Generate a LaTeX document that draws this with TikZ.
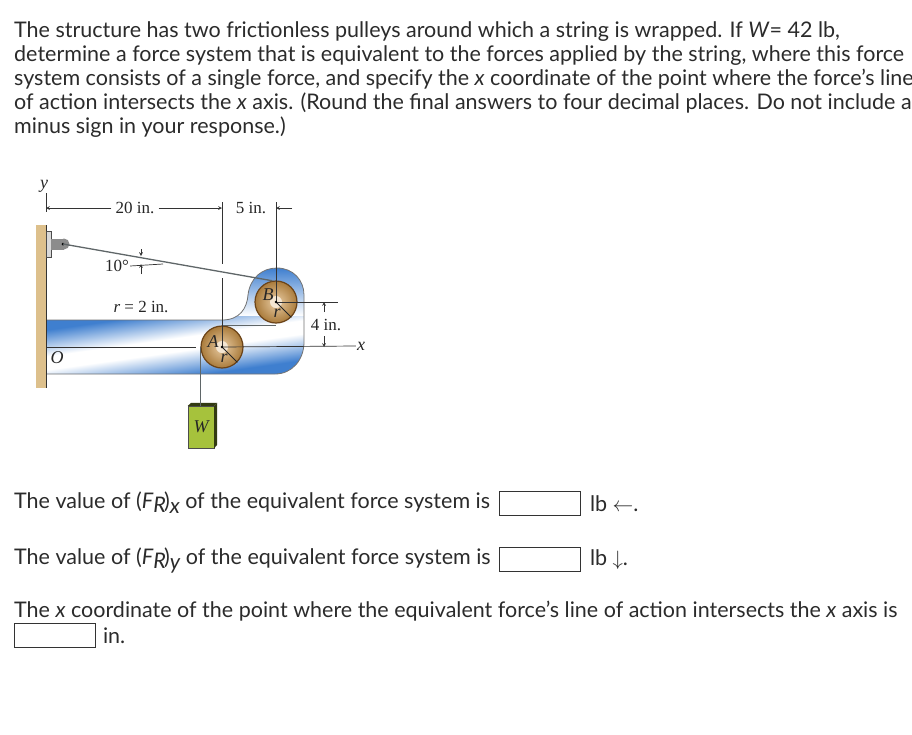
\documentclass[tikz,border=0pt]{standalone}
\usepackage{fontspec}
\setmainfont{Lato}
\newfontfamily\figfont{Liberation Serif}
\usetikzlibrary{positioning}
\definecolor{inktext}{HTML}{2B2B2B}
\definecolor{bodyblue}{HTML}{3F7FCF}
\definecolor{walltan}{HTML}{DDC08C}
\definecolor{woodtan}{HTML}{D49A4A}
\definecolor{woodedge}{HTML}{6B4318}
\definecolor{blockgreen}{HTML}{A6C23C}
\definecolor{stringgrey}{HTML}{5F6668}

\pgfdeclareverticalshading{bandshade}{100bp}{color(0bp)=(bodyblue); color(30bp)=(bodyblue); color(46bp)=(white); color(54bp)=(white); color(70bp)=(bodyblue); color(100bp)=(bodyblue)}

\def\bodyshape{(46,320) -- (222,320) .. controls (240,320) and (247,308) .. (248,295)
  .. controls (250,278) and (262,268) .. (277,268) .. controls (293,268) and (304,280) .. (304,295)
  -- (304,342) .. controls (304,360) and (292,374) .. (275,374) -- (46,374) -- cycle}

\tikzset{
  line/.style={font=\fontsize{21.5}{24}\selectfont, text=inktext, anchor=base west, inner sep=0pt},
  answerbox/.style={draw=black!80, line width=.8pt, fill=white, minimum width=81pt, minimum height=24pt, inner sep=0pt, anchor=north west},
  figlabel/.style={font=\figfont\fontsize{17}{18}\selectfont, text=black!85, inner sep=4pt},
  figit/.style={figlabel, inner sep=1pt, font=\figfont\itshape\fontsize{18}{18}\selectfont},
  wheel/.style={circle, draw=woodedge, line width=1.2pt, minimum size=42pt, inner sep=0pt, inner color=woodtan!50, outer color=woodtan!80!black},
  rope/.style={draw=stringgrey, line width=1.3pt},
  thinline/.style={draw=black!80, line width=.7pt},
  dim/.style={thinline, ->, >=stealth}
}

\begin{document}
\begin{tikzpicture}[x=1pt,y=-1pt]
  \useasboundingbox[fill=white] (0,0) rectangle (912,734);

  % question text
  \node[line] (q1) at (14,37) {The structure has two frictionless pulleys around which a string is wrapped. If \textit{W}= 42 lb,};
  \node[line] (q2) at (14,61) {determine a force system that is equivalent to the forces applied by the string, where this force};
  \node[line] (q3) at (14,85) {system consists of a single force, and specify the \textit{x} coordinate of the point where the force's line};
  \node[line] (q4) at (14,109) {of action intersects the \textit{x} axis. (Round the final answers to four decimal places. Do not include a};
  \node[line] (q5) at (14,133) {minus sign in your response.)};

  % structure
  \begin{scope}
    \clip \bodyshape;
    \shade[top color=bodyblue, bottom color=white] (240,268) rectangle (310,316);
    \shade[shading=bandshade, shading angle=8] (46,316) rectangle (304,374);
  \end{scope}
  \draw[black!55, line width=.8pt] \bodyshape;
  \fill[walltan] (36,225) rectangle (46,388);
  \draw[black!80, line width=.8pt] (46,225) -- (46,388);

  % pin
  \draw[black!70, fill=black!15] (46,231) rectangle (51,257);
  \fill[black!45] (64,244) circle (5.5pt);
  \fill[black!45] (51,238.5) rectangle (64,249.5);
  \coordinate (pin) at (63,244);
  \fill[black] (pin) circle (1.5pt);

  % pulleys
  \node[wheel] (A) at (222,347) {};
  \node[wheel] (B) at (276,302) {};
  \fill[woodtan!25] (A.center) circle (6pt);
  \fill[woodtan!25] (B.center) circle (6pt);

  % string
  \draw[rope] (pin) -- (B.100);
  \draw[rope] (A.north) -- (A.north -| B);
  \node[draw=black!70, fill=blockgreen, minimum width=26pt, minimum height=42pt, inner sep=0pt] (W) at (201,427) {};
  \fill[black!70!blockgreen] (W.north east) -- ++(3,-3) -- ++(-26,0) -- (W.north west) -- cycle;
  \fill[black!70!blockgreen] (W.north east) -- ++(3,-3) -- ++(0,42) -- (W.south east) -- cycle;
  \draw[rope] (A.west) -- (A.west |- W.north);
  \node[figit] (Wlab) at (W) {W};

  % axes and dimension lines
  \coordinate (origin) at (46,347);
  \node[figit] (ylab) at (44,186) {y};
  \node[figit] (xlab) at (361,346) {x};
  \node[figit] (Olab) at (57,358) {O};
  \draw[thinline] (ylab.south -| origin) -- (46,212);
  \draw[thinline] (origin) -- (196,347);
  \draw[thinline] (A.center) -- (xlab.west);
  \draw[thinline] (222,202) -- (222,264);
  \draw[thinline] (222,278) -- (A.center);
  \draw[thinline] (276,202) -- (B.center);
  \draw[thinline] (B.center) -- (338,302);

  \node[figlabel] (d20) at (135,208) {20 in.};
  \draw[dim] (d20.west) -- (46,208);
  \draw[dim] (d20.east) -- (222,208);
  \node[figlabel] (d5) at (251,208) {5 in.};
  \draw[dim] (292,208) -- (276,208);
  \node[figlabel, inner sep=1pt] (d4) at (326,325) {4 in.};
  \draw[dim] (324,312) -- (324,302);
  \draw[dim] (324,336) -- (324,347);

  \node[figlabel, inner sep=1pt] (ang) at (117,266) {10\textdegree};
  \draw[thinline] (ang.east) -- (163,264);
  \draw[dim] (141,249) -- (141,256);
  \draw[dim] (141,274) -- (141,264);
  \node[figlabel, inner sep=1pt] (rlab) at (141,307) {\textit{r} = 2 in.};

  % radii in the pulleys
  \draw[black!85, line width=1pt] (A.center) -- (A.-45);
  \draw[black!85, line width=1pt] (B.center) -- (B.-45);
  \fill[black] (A.center) circle (1.3pt);
  \fill[black] (B.center) circle (1.3pt);
  \node[figit] (Alab) at (213,342) {A};
  \node[figit] (Blab) at (268,295) {B};
  \node[figit] (ra) at (224,358) {r};
  \node[figit] (rb) at (277,313) {r};

  % answers
  \node[line] (a1) at (14,508) {The value of (\textit{F}\raisebox{-4pt}{\textit{R}}\kern-2pt)\raisebox{-5pt}{\textit{x}} of the equivalent force system is};
  \node[answerbox] (box1) at (499,491) {};
  \node[line, right=9pt of box1.east, anchor=west] (u1) {lb $\leftarrow$.};
  \node[line] (a2) at (14,564) {The value of (\textit{F}\raisebox{-4pt}{\textit{R}}\kern-2pt)\raisebox{-5pt}{\textit{y}} of the equivalent force system is};
  \node[answerbox] (box2) at (499,547) {};
  \node[line, right=9pt of box2.east, anchor=west] (u2) {lb $\downarrow$.};
  \node[line] (a3) at (14,617) {The \textit{x} coordinate of the point where the equivalent force's line of action intersects the \textit{x} axis is};
  \node[answerbox] (box3) at (14,623) {};
  \node[line, right=7pt of box3.east, anchor=west] (u3) {in.};
\end{tikzpicture}
\end{document}
